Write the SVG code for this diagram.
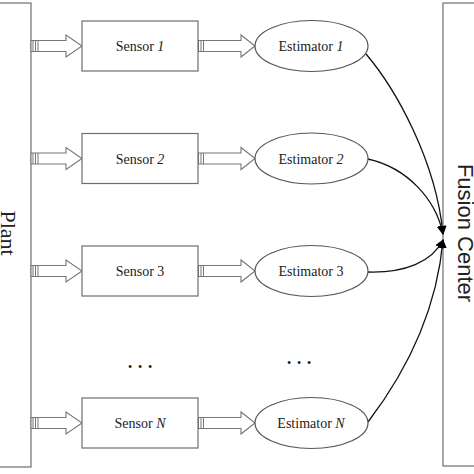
<svg xmlns="http://www.w3.org/2000/svg" width="474" height="474" viewBox="0 0 474 474">
<defs>
<style>
.frame{fill:#fff;stroke:#7a7a7a;stroke-width:1.3}
.box{fill:#fff;stroke:#6e6e6e;stroke-width:1.2}
.ell{fill:#fff;stroke:#555;stroke-width:1.2}
.barrow{fill:#fff;stroke:#777;stroke-width:1.1}
.stripe{stroke:#777;stroke-width:1}
.lbl{font-family:"Liberation Serif","Times New Roman",serif;font-size:14px;fill:#222;text-anchor:middle}
.curve{fill:none;stroke:#111;stroke-width:1.3}
</style>
<marker id="ah" viewBox="0 0 10 10" refX="9" refY="5" markerWidth="9" markerHeight="9" markerUnits="userSpaceOnUse" orient="auto">
<path d="M0,0 L10,5 L0,10 Z" fill="#000"/>
</marker>
<g id="blk">
<path class="barrow" d="M0,-5.5 H35 V-11 L51,0 L35,11 V5.5 H0 Z"/>
<line class="stripe" x1="2" y1="-5.5" x2="2" y2="5.5"/>
<line class="stripe" x1="4.5" y1="-5.5" x2="4.5" y2="5.5"/>
<line class="stripe" x1="7" y1="-5.5" x2="7" y2="5.5"/>
</g>
<g id="blk2">
<path class="barrow" d="M0,-5.5 H44 V-11 L58,0 L44,11 V5.5 H0 Z"/>
<line class="stripe" x1="1.5" y1="-5.5" x2="1.5" y2="5.5"/>
<line class="stripe" x1="4" y1="-5.5" x2="4" y2="5.5"/>
<line class="stripe" x1="6.5" y1="-5.5" x2="6.5" y2="5.5"/>
</g>
</defs>
<rect width="474" height="474" fill="#fff"/>

<g id="plant">
<rect class="frame" x="-10" y="3" width="41" height="464"/>
<text transform="translate(0.5,233) rotate(90)" text-anchor="middle" font-family="Liberation Serif, Times New Roman, serif" font-size="22" fill="#222">Plant</text>
</g>

<g id="fusion">
<rect class="frame" x="443" y="3" width="40" height="463"/>
<text transform="translate(458,233) rotate(90)" text-anchor="middle" font-family="Liberation Sans, Arial, sans-serif" font-size="22" fill="#222">Fusion Center</text>
</g>

<g id="connectors">
<use href="#blk" x="31" y="46"/>
<use href="#blk" x="31" y="158.5"/>
<use href="#blk" x="31" y="271"/>
<use href="#blk" x="31" y="423"/>
<use href="#blk2" x="197" y="46"/>
<use href="#blk2" x="197" y="158.5"/>
<use href="#blk2" x="197" y="271"/>
<use href="#blk2" x="197" y="423"/>
<path class="curve" d="M366,54 C395,88 436,160 443,234" marker-end="url(#ah)"/>
<path class="curve" d="M368,159 C408,168 436,200 443,234" marker-end="url(#ah)"/>
<path class="curve" d="M368,272 C405,273 432,262 443,240" marker-end="url(#ah)"/>
<path class="curve" d="M368,422 C400,380 436,320 443,240" marker-end="url(#ah)"/>
</g>

<g id="sensor1">
<rect class="box" x="82" y="21" width="116" height="50"/>
<text class="lbl" x="140" y="51">Sensor <tspan font-style="italic">1</tspan></text>
</g>
<g id="sensor2">
<rect class="box" x="82" y="133.5" width="116" height="50"/>
<text class="lbl" x="140" y="163.5">Sensor <tspan font-style="italic">2</tspan></text>
</g>
<g id="sensor3">
<rect class="box" x="82" y="246" width="116" height="50"/>
<text class="lbl" x="140" y="276">Sensor 3</text>
</g>
<g id="sensorN">
<rect class="box" x="82" y="398" width="116" height="50"/>
<text class="lbl" x="140" y="428">Sensor <tspan font-style="italic">N</tspan></text>
</g>

<g id="estimator1">
<ellipse class="ell" cx="311.5" cy="46" rx="56.5" ry="25.5"/>
<text class="lbl" x="311" y="51">Estimator <tspan font-style="italic">1</tspan></text>
</g>
<g id="estimator2">
<ellipse class="ell" cx="311.5" cy="158.5" rx="56.5" ry="25.5"/>
<text class="lbl" x="311" y="163.5">Estimator <tspan font-style="italic">2</tspan></text>
</g>
<g id="estimator3">
<ellipse class="ell" cx="311.5" cy="271" rx="56.5" ry="25.5"/>
<text class="lbl" x="311" y="276">Estimator 3</text>
</g>
<g id="estimatorN">
<ellipse class="ell" cx="311.5" cy="423" rx="56.5" ry="25.5"/>
<text class="lbl" x="311" y="428">Estimator <tspan font-style="italic">N</tspan></text>
</g>

<g id="dots" font-family="Liberation Serif, Times New Roman, serif" font-size="12" fill="#111" letter-spacing="5.8">
<text x="128" y="371">•••</text>
<text x="287" y="367">•••</text>
</g>
</svg>
